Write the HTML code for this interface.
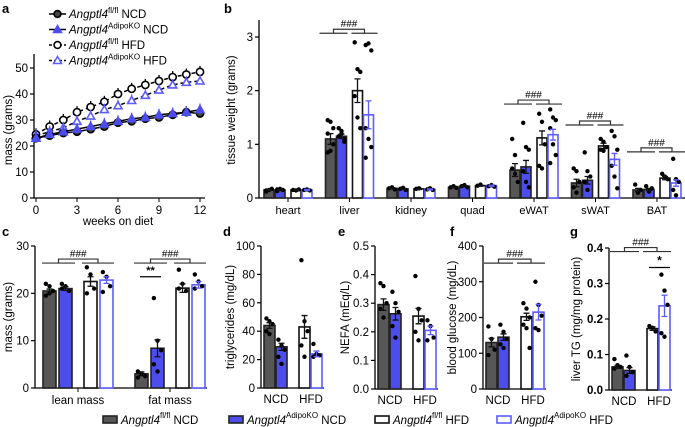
<!DOCTYPE html>
<html><head><meta charset="utf-8"><style>
html,body{margin:0;padding:0;background:#fff}
svg{display:block;font-family:"Liberation Sans",Arial,sans-serif}
</style></head><body>
<svg id="fig" width="685" height="427" viewBox="0 0 685 427" xmlns="http://www.w3.org/2000/svg"></svg>
<script>
// ---------- Panel a data ----------
const weeks=[0,1,2,3,4,5,6,7,8,9,10,11,12];
const aNcdFl=[23,24,25,25.5,26.5,27.5,29,29.5,30.5,31,32,33,32.5];
const aNcdKo=[23,24.5,25.5,26.5,27.5,28.5,29.5,30.5,31,32,32.5,33,34];
const aHfdFl=[24.5,27.5,30,33,35,37,40,42,43.5,45,46.5,47.5,48.5];
const aHfdKo=[24,25.5,27,29.5,31.5,34,35.5,37.5,39.5,41.5,43.5,44.5,45];
const aTicksX=[0,3,6,9,12];
const aTicksY=[0,10,20,30,40,50];
// ---------- Panel b data ----------
const bCats=["heart","liver","kidney","quad","eWAT","sWAT","BAT"];
const bNcdFl=[0.15,1.1,0.18,0.2,0.52,0.28,0.15];
const bNcdKo=[0.15,1.15,0.17,0.22,0.58,0.33,0.16];
const bHfdFl=[0.15,2.0,0.17,0.23,1.12,0.97,0.37];
const bHfdKo=[0.15,1.55,0.16,0.23,1.18,0.72,0.28];
const bSem=[[0.01,0.1,0.01,0.01,0.12,0.07,0.03],[0.01,0.04,0.01,0.01,0.12,0.07,0.02],[0.01,0.22,0.01,0.01,0.13,0.05,0.03],[0.01,0.26,0.01,0.01,0.1,0.11,0.06]];
const bTicks=[0,1,2,3];
// ---------- Panel c data ----------
const cCats=["lean mass","fat mass"];
const cVals=[[20.5,3],[21,8.4],[22.5,21.1],[22.8,21.8]];
const cSem=[[0.4,0.4],[0.4,1.8],[1,0.9],[0.7,0.7]];
const cTicks=[0,10,20,30];
// ---------- Panels d-g data ----------
const dgCats=["NCD","HFD"];
const dVals=[44,29,43,24];const dSem=[2,2.5,8,2];const dTicks=[0,20,40,60,80,100];
const eVals=[0.295,0.263,0.255,0.205];const eSem=[0.02,0.022,0.027,0.015];const eTicks=[0,0.1,0.2,0.3,0.4,0.5];
const fVals=[130,145,202,215];const fSem=[12,9,10,22];const fTicks=[0,100,200,300,400];
const gVals=[0.065,0.055,0.173,0.237];const gSem=[0.004,0.008,0.005,0.03];const gTicks=[0,0.1,0.2,0.3,0.4];
// scatter dots
const bDots=[
 [[0.12,0.15,0.17,0.14],[1.45,1.42,1.3,0.85,0.88,1.0,1.2],[0.18,0.2,0.16],[0.2,0.22,0.19],[1.1,0.8,0.3,0.55,0.45],[0.55,0.5,0.3,0.2,0.1],[0.25,0.1,0.15]],
 [[0.13,0.17,0.15,0.16],[1.3,1.2,1.1,1.15,1.25,1.05],[0.17,0.19,0.15],[0.22,0.24,0.2],[1.4,0.95,0.9,0.5,0.3,0.2],[0.85,0.5,0.4,0.3,0.15],[0.22,0.12,0.18]],
 [[0.15,0.14,0.16],[2.9,2.4,2.35,1.9,1.5,1.3],[0.17,0.18],[0.23,0.25],[1.57,1.42,1.0,0.6,0.55],[1.1,1.05,0.95,0.9,0.88],[0.45,0.4,0.35]],
 [[0.15,0.16,0.14],[2.85,2.88,2.75,1.3,1.1,0.95,0.75],[0.16,0.18,0.15],[0.22,0.24,0.21],[1.65,1.5,1.45,1.3,1.0,0.8,0.65],[1.25,1.15,0.9,0.6,0.4,0.18],[0.73,0.35,0.3,0.15,0.05]]];
const cDots=[[[22,21.5,20.5,19.5,20],[3.5,3,2.5,2.2]],[[22,21.5,20.5,21],[19,10,8,5,3.5]],[[25.5,24,21,20],[25,22,20.5,21]],[[24.5,23.5,21.5,20.3],[24,22.5,21.5,21]]];
const dDots=[[49,47,45,40,38],[34,30,27,22,17],[90,47,40,30,22],[31,24,23,22]];
const eDots=[[0.37,0.36,0.3,0.28,0.25],[0.34,0.3,0.27,0.22,0.18],[0.395,0.28,0.24,0.2,0.17],[0.24,0.22,0.18,0.17]];
const fDots=[[175,140,110,95],[180,160,140,125,115],[240,225,200,180,170,115],[300,235,205,170,165]];
const gDots=[[0.087,0.07,0.065,0.06],[0.097,0.065,0.05,0.04],[0.18,0.175,0.165],[0.325,0.28,0.24,0.16,0.15]];

const NS="http://www.w3.org/2000/svg";
const svg=document.getElementById('fig');
const GRAY="#575757",BLUE="#4d4dee",BLUE2="#5c5cff";
function el(tag,attrs,parent,text){const e=document.createElementNS(NS,tag);for(const k in attrs)e.setAttribute(k,attrs[k]);if(text!==undefined)e.textContent=text;(parent||svg).appendChild(e);return e;}
function lin(d0,d1,r0,r1){return v=>r0+(v-d0)/(d1-d0)*(r1-r0);}
function fmt(v){return String(v);}
function letter(t,x,y){const e=el('text',{x:x,y:y,'font-size':13,'font-weight':'bold'},svg,t);

}
function yAxis(g,x,y,ticks,yTop,yBot,dec,bold){
 el('line',{x1:x,x2:x,y1:yTop,y2:yBot,stroke:'#000','stroke-width':1.3},g);
 ticks.forEach(t=>{const yy=y(t);el('line',{x1:x-4,x2:x,y1:yy,y2:yy,stroke:'#000','stroke-width':1.2},g);
  const tx=el('text',{x:x-6,y:yy+4,'font-size':11.5,'text-anchor':'end','font-weight':bold?'bold':'normal'},g,dec!==undefined?t.toFixed(dec):fmt(t));
  
  });
}
function yTitle(g,x,yc,t){const e=el('text',{x:x,y:yc,'font-size':11.5,'text-anchor':'middle',transform:`rotate(-90 ${x} ${yc})`},g,t);
 
 }
function bracket(g,x1,x2,x3,x4,y,label){
 const m1=(x1+x2)/2,m2=(x3+x4)/2;
 el('path',{d:`M${x1} ${y}H${x2}M${x3} ${y}H${x4}M${m1} ${y}V${y-4}H${m2}V${y}`,stroke:'#333',fill:'none','stroke-width':1.2},g);
 const t=el('text',{x:(m1+m2)/2,y:y-6,'font-size':10,'text-anchor':'middle'},g,label);
 
 
}
const styles=[{fill:GRAY,stroke:'#222'},{fill:BLUE,stroke:'#222'},{fill:'#fff',stroke:'#111'},{fill:'#fff',stroke:BLUE2}];
function bar(g,x,w,y,v,sem,s,dots,name){
 const b=el('rect',{x:x,y:y(v),width:w,height:y(0)-y(v),fill:s.fill,stroke:s.stroke,'stroke-width':1.6},g);
 
 
 const cx=x+w/2;
 (dots||[]).forEach((d,i)=>{el('circle',{cx:cx+((i%3)-1)*w*0.28,cy:y(d),r:2.2,fill:'#000'},g);});
 el('path',{d:`M${cx} ${y(v+sem)}V${y(v-sem)}M${cx-3} ${y(v+sem)}H${cx+3}M${cx-3} ${y(v-sem)}H${cx+3}`,stroke:s.stroke===BLUE2?BLUE2:'#111','stroke-width':1.3},g);
}
// ===== Panel a =====
(function(){
 const g=el('g',{});
 letter('a',2,13);
 const x=lin(0,12,36,200),y=lin(0,50,198,68);
 yAxis(g,34,y,aTicksY,54,198);
 el('line',{x1:34,x2:205,y1:198,y2:198,stroke:'#000','stroke-width':1.3},g);
 aTicksX.forEach(t=>{el('line',{x1:x(t),x2:x(t),y1:198,y2:202,stroke:'#000'},g);
  const tx=el('text',{x:x(t),y:214,'font-size':11.5,'text-anchor':'middle'},g,t);
  });
 const xt=el('text',{x:118,y:225,'font-size':11.5,'text-anchor':'middle'},g,'weeks on diet');
 
 yTitle(g,12,130,'mass (grams)');
 const series=[{d:aHfdFl,dash:'4 3',m:'c',fill:'#fff',st:'#000'},{d:aHfdKo,dash:'4 3',m:'t',fill:'#fff',st:BLUE2},{d:aNcdFl,dash:'',m:'c',fill:'#444',st:'#000'},{d:aNcdKo,dash:'',m:'t',fill:BLUE,st:BLUE}];
 series.forEach((s,si)=>{
  const p=el('polyline',{points:s.d.map((v,i)=>x(weeks[i])+','+y(v)).join(' '),fill:'none',stroke:'#000','stroke-width':1.5,'stroke-dasharray':s.dash},g);
  
  s.d.forEach((v,i)=>{const cx=x(weeks[i]),cy=y(v);
   el('line',{x1:cx,x2:cx,y1:cy-4,y2:cy-6,stroke:s.st,'stroke-width':1.3},g);
   if(s.m==='c')el('circle',{cx:cx,cy:cy,r:3.6,fill:s.fill,stroke:s.st,'stroke-width':1.6},g);
   else el('path',{d:`M${cx} ${cy-4}L${cx+4} ${cy+3}L${cx-4} ${cy+3}Z`,fill:s.fill,stroke:s.st,'stroke-width':1.6},g);});
 });
 const leg=[['fl/fl','NCD','c','#444','#000',''],['AdipoKO','NCD','t',BLUE,BLUE,''],['fl/fl','HFD','c','#fff','#000','3 2'],['AdipoKO','HFD','t','#fff',BLUE2,'3 2']];
 leg.forEach((L,i)=>{const yy=14+i*15.5;const lg=el('g',{},g);
  
  el('line',{x1:49,x2:66,y1:yy,y2:yy,stroke:'#000','stroke-width':1.5,'stroke-dasharray':L[5]},lg);
  if(L[2]==='c')el('circle',{cx:57.5,cy:yy,r:3.4,fill:L[3],stroke:L[4],'stroke-width':1.6},lg);
  else el('path',{d:`M57.5 ${yy-4}L61.5 ${yy+3}L53.5 ${yy+3}Z`,fill:L[3],stroke:L[4],'stroke-width':1.5},lg);
  const t=el('text',{x:69,y:yy+4,'font-size':11.5},lg);
  el('tspan',{'font-style':'italic'},t,'Angptl4');el('tspan',{'font-size':8,dy:-5},t,L[0]);el('tspan',{dy:5},t,' '+L[1]);});
})();
// ===== Panel b =====
(function(){
 const g=el('g',{});
 letter('b',224,13);
 const y=lin(0,3,198,37);
 yAxis(g,259,y,bTicks,20,198);
 el('line',{x1:259,x2:685,y1:198,y2:198,stroke:'#000','stroke-width':1.3},g);
 yTitle(g,235,110,'tissue weight (grams)');
 const series=[bNcdFl,bNcdKo,bHfdFl,bHfdKo],offs=[0,11,27,38];
 const gx=i=>264+i*61.5;
 const bh={liver:3.07,eWAT:1.75,sWAT:1.36,BAT:0.86};
 bCats.forEach((c,i)=>{const x0=gx(i);
  series.forEach((s,si)=>bar(g,x0+offs[si],10,y,s[i],bSem[si][i],styles[si],bDots[si][i],'bar-'+c+'-'+si));
  el('line',{x1:x0+24,x2:x0+24,y1:198,y2:202,stroke:'#000'},g);
  const t=el('text',{x:x0+24,y:214,'font-size':11,'text-anchor':'middle'},g,c);
  
  if(bh[c]!==undefined)bracket(g,x0-6,x0+22,x0+26,x0+52,y(bh[c]),'###');
 });
})();
// ===== Panel c =====
(function(){
 const g=el('g',{});
 letter('c',2,236);
 const y=lin(0,30,388,246);
 yAxis(g,35,y,cTicks,246,388);
 el('line',{x1:35,x2:207,y1:388,y2:388,stroke:'#000','stroke-width':1.3},g);
 yTitle(g,12,317,'mass (grams)');
 const offs=[0,16,41,57],gx=i=>43+i*92;
 cCats.forEach((c,i)=>{const x0=gx(i);
  cVals.forEach((v,si)=>bar(g,x0+offs[si],13,y,v[i],cSem[si][i],styles[si],cDots[si][i],'bar-'+c.replace(' ','-')+'-'+si));
  el('line',{x1:x0+35,x2:x0+35,y1:388,y2:392,stroke:'#000'},g);
  const t=el('text',{x:x0+35,y:404,'font-size':11.5,'text-anchor':'middle'},g,c);
  
  bracket(g,x0-1,x0+32,x0+39,x0+71,y(26.4),'###');
 });
 el('line',{x1:140,x2:161,y1:y(23.5),y2:y(23.5),stroke:'#000','stroke-width':1.2},g);
 el('text',{x:150.5,y:y(23.5)-3,'font-size':11,'text-anchor':'middle','font-weight':'bold'},g,'**');
})();
// ===== Panels d-g =====
function small(letterT,lx,axisX,yTop,yBot,ticks,vals,sem,dots,title,titleX,opts){
 const g=el('g',{});
 letter(letterT,lx,236);
 const y=lin(ticks[0],ticks[ticks.length-1],yBot,yTop);
 yAxis(g,axisX,y,ticks,yTop,yBot,opts.dec,opts.bold);
 el('line',{x1:axisX,x2:axisX+63,y1:yBot,y2:yBot,stroke:'#000','stroke-width':1.3},g);
 yTitle(g,titleX,(yTop+yBot)/2,title);
 const offs=[3,15,38,50];
 vals.forEach((v,si)=>bar(g,axisX+offs[si],11,y,v,sem[si],styles[si],dots[si],'bar-'+letterT+'-'+si));
 dgCats.forEach((c,i)=>{const cx=axisX+15+i*35;
  const t=el('text',{x:cx,y:yBot+15,'font-size':11.5,'text-anchor':'middle'},g,c);
  });
 if(opts.br!==undefined)bracket(g,axisX+1,axisX+30,axisX+34,axisX+62,y(opts.br),'###');
 if(opts.star!==undefined){el('line',{x1:axisX+40,x2:axisX+61,y1:y(opts.star),y2:y(opts.star),stroke:'#000','stroke-width':1.2},g);
  el('text',{x:axisX+50.5,y:y(opts.star)-3,'font-size':12,'text-anchor':'middle','font-weight':'bold'},g,'*');}
}
small('d',223,261,246,388,dTicks,dVals,dSem,dDots,'triglycerides (mg/dL)',234,{});
small('e',338,375,246,389,eTicks,eVals,eSem,eDots,'NEFA (mEq/L)',349,{dec:1});
small('f',450,483,246,389,fTicks,fVals,fSem,fDots,'blood glucose (mg/dL)',456,{br:352});
small('g',570,609,248,390,gTicks,gVals,gSem,gDots,'liver TG (mg/mg protein)',580,{dec:1,bold:true,br:0.39,star:0.345});
// ===== bottom legend =====
(function(){
 const items=[[103,GRAY,'#222','fl/fl','NCD'],[229,BLUE,'#222','AdipoKO','NCD'],[375,'#fff','#111','fl/fl','HFD'],[497,'#fff',BLUE2,'AdipoKO','HFD']];
 items.forEach((it,i)=>{const g=el('g',{});
  
  
  el('rect',{x:it[0],y:416,width:14,height:7,fill:it[1],stroke:it[2],'stroke-width':1.6},g);
  const t=el('text',{x:it[0]+18,y:424,'font-size':11.5},g);
  el('tspan',{'font-style':'italic'},t,'Angptl4');el('tspan',{'font-size':8,dy:-6},t,it[3]);el('tspan',{dy:6},t,' '+it[4]);});
})();
</script>
</body></html>
